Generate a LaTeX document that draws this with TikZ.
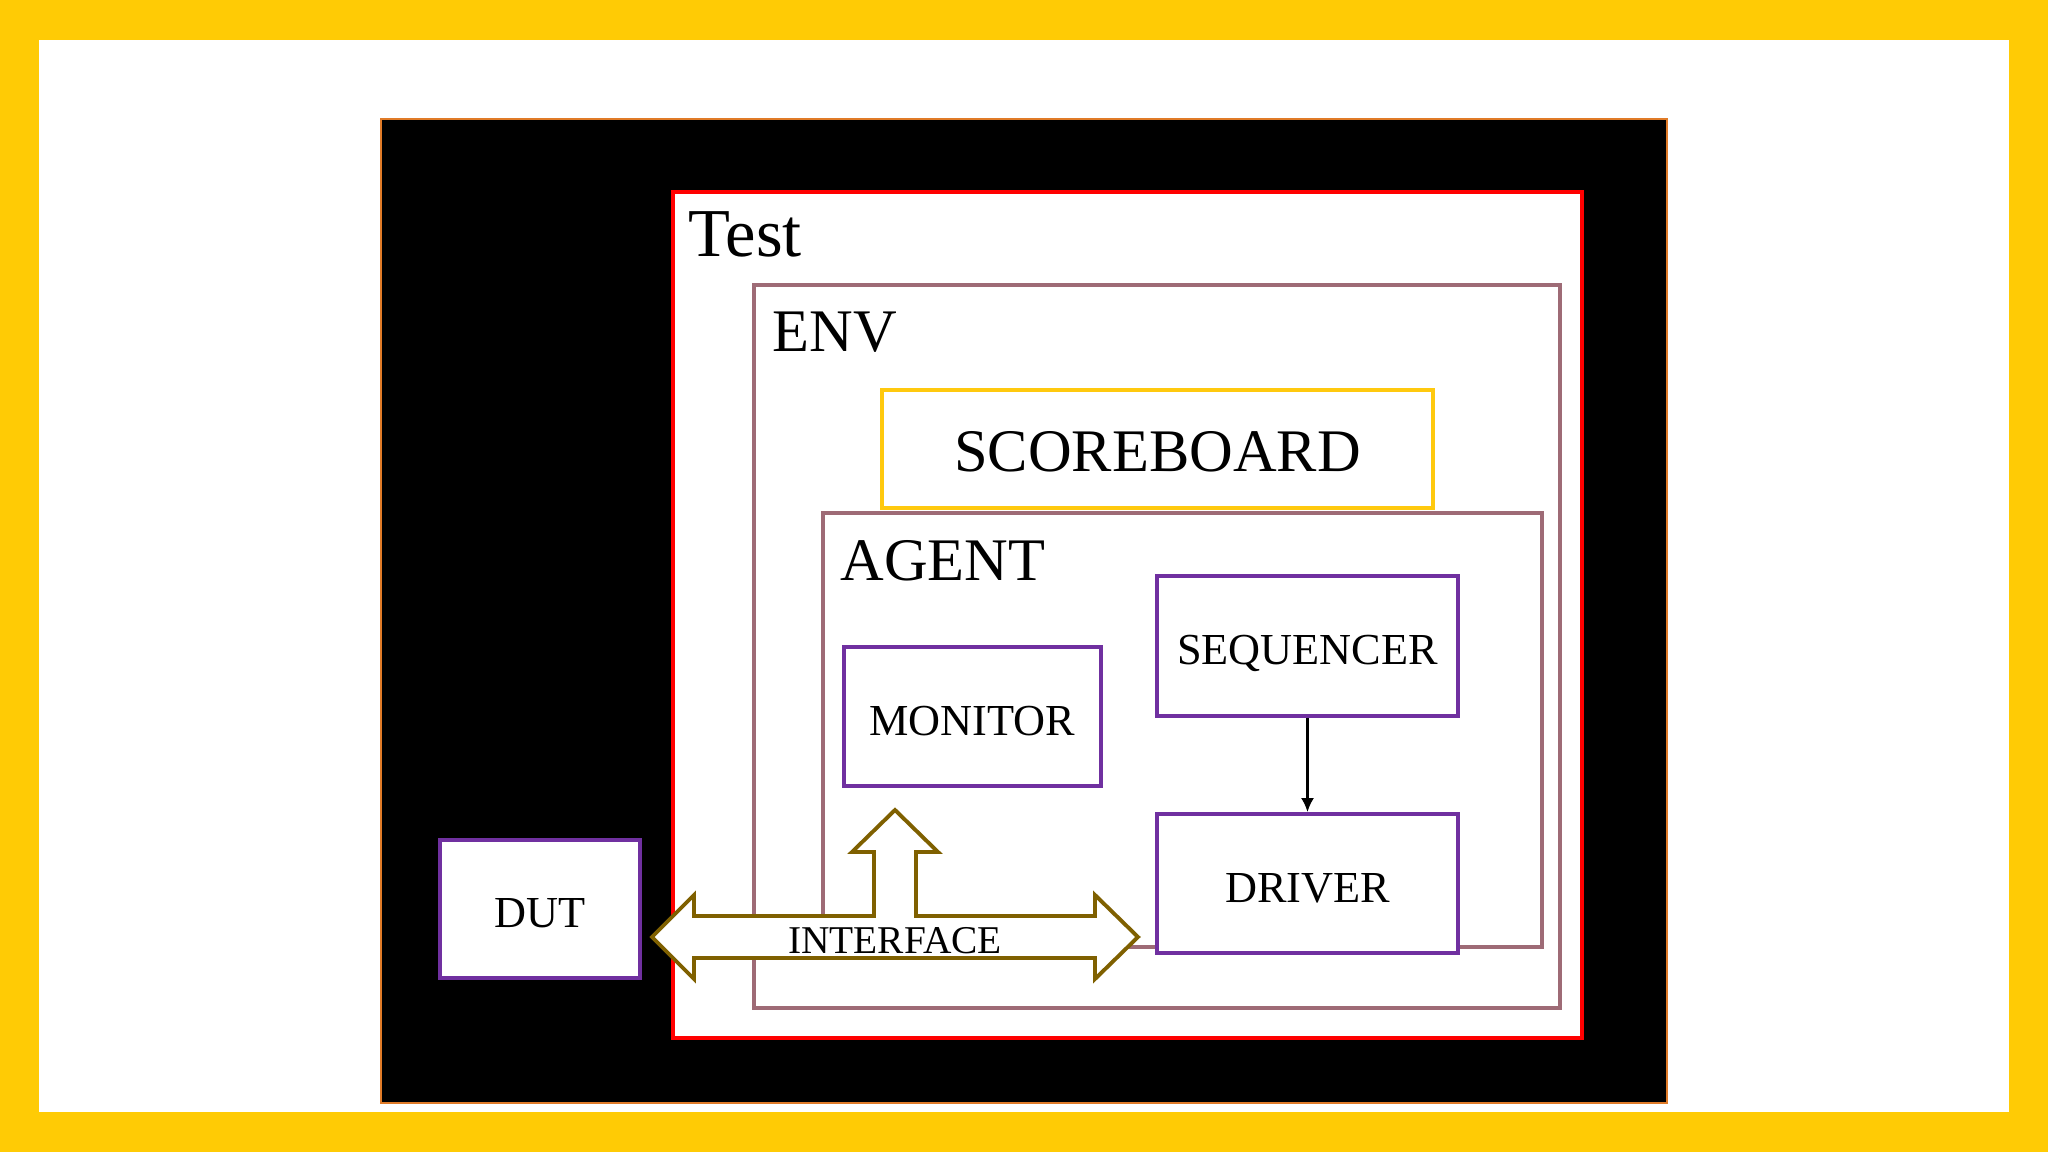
\documentclass[tikz,border=0pt]{standalone}
\usepackage{fontspec}
\setmainfont{Liberation Serif}
\usetikzlibrary{arrows.meta,positioning,calc}
\definecolor{slideyel}{HTML}{FFCB05}
\definecolor{frameorg}{HTML}{E07B28}
\definecolor{testred}{HTML}{FF0000}
\definecolor{envmauve}{HTML}{9E6B76}
\definecolor{scoreyel}{HTML}{FFC90E}
\definecolor{blkpurp}{HTML}{7030A0}
\definecolor{ifolive}{HTML}{7F6000}

\begin{document}
\begin{tikzpicture}[>={Latex[length=1.4mm,width=1.3mm]},
 cont/.style={draw,line width=0.9pt,fill=white,inner sep=0pt},
 blk/.style={draw=blkpurp,line width=1.1pt,fill=white,inner sep=0pt,
   text height=10.6pt,text depth=0pt,
   minimum width=3.01cm,minimum height=1.40cm,font=\fontsize{12.6}{14}\selectfont},
 big/.style={inner sep=0pt,font=\fontsize{17.2}{21}\selectfont}]
\useasboundingbox (0,0) rectangle (20.48,-11.52);
% slide frame
\fill[slideyel] (0,0) rectangle (20.48,-11.52);
\fill[white] (0.39,-0.40) rectangle (20.09,-11.12);
\node[draw=frameorg,fill=black,line width=0.5pt,inner sep=0pt,
 minimum width=12.86cm,minimum height=9.84cm] (bench) at (10.24,-6.11) {};
% containers
\node[cont,draw=testred,line width=1.1pt,minimum width=9.09cm,minimum height=8.46cm] (test) at (11.275,-6.15) {};
\node[big,anchor=base west,font=\fontsize{19.5}{23}\selectfont] (testlbl) at (6.88,-2.57) {Test};
\node[cont,draw=envmauve,minimum width=8.06cm,minimum height=7.23cm] (env) at (11.57,-6.465) {};
\node[big,anchor=base west] (envlbl) at (7.72,-3.52) {ENV};
\node[big,draw=scoreyel,line width=1.1pt,fill=white,text height=13pt,text depth=0pt,
 minimum width=5.51cm,minimum height=1.18cm] (score) at (11.575,-4.49) {SCOREBOARD};
\node[cont,draw=envmauve,minimum width=7.19cm,minimum height=4.34cm] (agent) at (11.825,-7.30) {};
\node[big,anchor=base west] (agentlbl) at (8.40,-5.81) {AGENT};
% blocks
\node[blk] (seq) at (13.075,-6.46) {SEQUENCER};
\node[blk,minimum height=1.39cm] (drv) at (13.075,-8.835) {DRIVER};
\node[blk,minimum width=2.57cm,minimum height=1.39cm] (mon) at (9.725,-7.165) {MONITOR};
\node[blk,minimum width=2.00cm,minimum height=1.38cm] (dut) at (5.40,-9.09) {DUT};
\draw[->,line width=0.6pt] (seq) -- (drv);
% interface arrow
\draw[ifolive,line width=1.1pt,fill=white] (6.52,-9.37) -- (6.94,-8.95) -- (6.94,-9.16)
 -- (8.74,-9.16) -- (8.74,-8.52) -- (8.52,-8.52) -- (8.95,-8.10) -- (9.38,-8.52)
 -- (9.16,-8.52) -- (9.16,-9.16) -- (10.95,-9.16) -- (10.95,-8.95) -- (11.38,-9.37)
 -- (10.95,-9.79) -- (10.95,-9.58) -- (6.94,-9.58) -- (6.94,-9.79) -- cycle;
\node[inner sep=0pt,text height=9.5pt,text depth=0pt,font=\fontsize{11.2}{13}\selectfont] (iface) at (8.95,-9.37) {INTERFACE};
\end{tikzpicture}
\end{document}
